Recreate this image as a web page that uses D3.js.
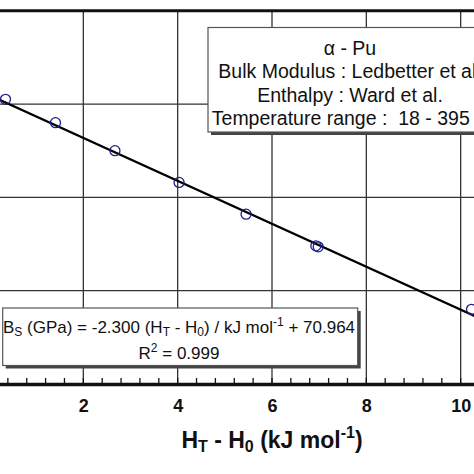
<!DOCTYPE html>
<html><head><meta charset="utf-8">
<script src="https://cdn.jsdelivr.net/npm/d3@7/dist/d3.min.js"></script>
<style>
html,body{margin:0;padding:0;background:#fff;}
svg{display:block;}
text{font-family:"Liberation Sans",Arial,sans-serif;fill:#111;}
</style></head>
<body>
<svg id="c" width="474" height="474"></svg>
<script>
// Data
const enthalpy = [0.35, 1.41, 2.67, 4.03, 5.45, 6.93, 6.98, 10.23];
const bulkModulus = [70.5, 68.0, 65.0, 61.6, 58.2, 54.8, 54.7, 48.0];
const fitSlope = -2.300;
const fitIntercept = 70.964;
const xGridValues = [0, 2, 4, 6, 8, 10, 12];
const xTickLabels = [2, 4, 6, 8, 10];
const yGridValues = [40, 50, 60, 70, 80];
const infoLines = ["\u03b1 - Pu", "Bulk Modulus : Ledbetter et al.", "Enthalpy : Ward et al.", "Temperature range :  18 - 395 K"];

const svg = d3.select("#c");
const x = d3.scaleLinear().domain([0, 12]).range([-11, 555]);
const y = d3.scaleLinear().domain([40, 80]).range([384, 10.7]);

// grid
svg.append("g").selectAll("line").data(xGridValues).join("line")
  .attr("x1", d => x(d)).attr("x2", d => x(d)).attr("y1", y(80)).attr("y2", y(40))
  .attr("stroke", "#333").attr("stroke-width", 1.3);
svg.append("g").selectAll("line").data(yGridValues).join("line")
  .attr("x1", x(0)).attr("x2", x(12)).attr("y1", d => y(d)).attr("y2", d => y(d))
  .attr("stroke", "#333").attr("stroke-width", 1.3);

// top border
svg.append("line").attr("x1", x(0)).attr("x2", x(12)).attr("y1", y(80)).attr("y2", y(80))
  .attr("stroke", "#111").attr("stroke-width", 3);

// bottom axis
const xAxis = d3.axisBottom(x).tickValues(xTickLabels).tickSize(0).tickPadding(0).tickFormat(d3.format("d"));
const gx = svg.append("g").attr("transform", `translate(0,${y(40)})`).call(xAxis);
gx.select(".domain").attr("stroke", "#111").attr("stroke-width", 3.5);
gx.selectAll(".tick text").attr("dy", null).attr("y", 28)
  .style("font-family", '"Liberation Sans",Arial,sans-serif').style("font-size", "18px")
  .style("font-weight", "bold").attr("fill", "#111");
// minor ticks (inward)
const minor = d3.range(0, 12.001, 0.4);
svg.append("g").selectAll("line").data(minor).join("line")
  .attr("x1", d => x(d)).attr("x2", d => x(d)).attr("y1", y(40)).attr("y2", y(40) - 6)
  .attr("stroke", "#111").attr("stroke-width", 1.3);

// fit line
svg.append("line")
  .attr("x1", x(0)).attr("y1", y(fitIntercept))
  .attr("x2", x(12)).attr("y2", y(fitIntercept + fitSlope * 12))
  .attr("stroke", "#000").attr("stroke-width", 2.4);

// points
svg.append("g").selectAll("circle").data(enthalpy.map((h, i) => [h, bulkModulus[i]])).join("circle")
  .attr("cx", d => x(d[0])).attr("cy", d => y(d[1])).attr("r", 5)
  .attr("fill", "none").attr("stroke", "#1e1e86").attr("stroke-width", 1.3);

// info box
const b1 = {x: 208, y: 27.5, w: 290, h: 104.5};
svg.append("rect").attr("x", b1.x + 3).attr("y", b1.y + 3).attr("width", b1.w).attr("height", b1.h).attr("fill", "#444");
svg.append("rect").attr("x", b1.x).attr("y", b1.y).attr("width", b1.w).attr("height", b1.h)
  .attr("fill", "#fff").attr("stroke", "#555").attr("stroke-width", 1.2);
svg.append("g").selectAll("text").data(infoLines).join("text")
  .attr("x", 350).attr("y", (d, i) => 55 + i * 23.4).attr("text-anchor", "middle")
  .style("font-size", "19.5px").style("white-space", "pre").text(d => d);

// equation box
const b2 = {x: 2.7, y: 308, w: 355, h: 57.5};
svg.append("rect").attr("x", b2.x + 3).attr("y", b2.y + 3).attr("width", b2.w).attr("height", b2.h).attr("fill", "#444");
svg.append("rect").attr("x", b2.x).attr("y", b2.y).attr("width", b2.w).attr("height", b2.h)
  .attr("fill", "#fff").attr("stroke", "#555").attr("stroke-width", 1.2);
const eq = svg.append("text").attr("x", 179).attr("y", 333.3).attr("text-anchor", "middle").style("font-size", "17px");
eq.append("tspan").text("B");
eq.append("tspan").attr("dy", 3).style("font-size", "12px").text("S");
eq.append("tspan").attr("dy", -3).text(" (GPa) = " + fitSlope.toFixed(3) + " (H");
eq.append("tspan").attr("dy", 3).style("font-size", "12px").text("T");
eq.append("tspan").attr("dy", -3).text(" - H");
eq.append("tspan").attr("dy", 3).style("font-size", "12px").text("0");
eq.append("tspan").attr("dy", -3).text(") / kJ mol");
eq.append("tspan").attr("dy", -7).style("font-size", "12px").text("-1");
eq.append("tspan").attr("dy", 7).text(" + " + fitIntercept.toFixed(3));
const r2 = svg.append("text").attr("x", 179).attr("y", 359).attr("text-anchor", "middle").style("font-size", "17px");
r2.append("tspan").text("R");
r2.append("tspan").attr("dy", -7).style("font-size", "12px").text("2");
r2.append("tspan").attr("dy", 7).text(" = 0.999");

// x axis title
const t = svg.append("text").attr("x", 272).attr("y", 448).attr("text-anchor", "middle")
  .style("font-size", "23px").style("font-weight", "bold");
t.append("tspan").text("H");
t.append("tspan").attr("dy", 4).style("font-size", "16px").text("T");
t.append("tspan").attr("dy", -4).text(" - H");
t.append("tspan").attr("dy", 4).style("font-size", "16px").text("0");
t.append("tspan").attr("dy", -4).text(" (kJ mol");
t.append("tspan").attr("dy", -10).style("font-size", "16px").text("-1");
t.append("tspan").attr("dy", 10).text(")");
</script>
</body></html>
